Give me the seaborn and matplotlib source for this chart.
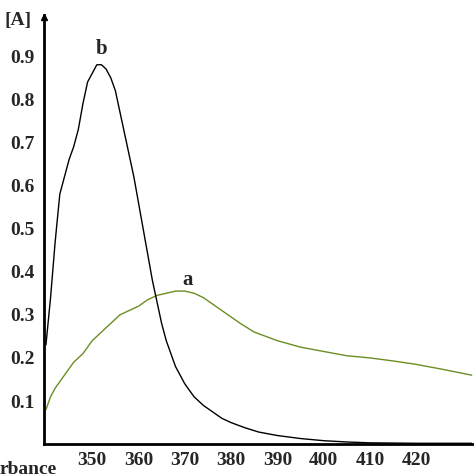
import matplotlib
matplotlib.use("Agg")
import matplotlib.pyplot as plt
import seaborn as sns

sns.set_style("white")
plt.rcParams['font.family'] = ['Liberation Serif', 'DejaVu Serif']

wl_b = [340, 341, 342, 343, 344, 345, 346, 347, 348, 349, 350, 351, 352, 353, 354, 355, 356, 357, 358, 359, 360, 361, 362, 363, 364, 365, 366, 367, 368, 369, 370, 372, 374, 376, 378, 380, 383, 386, 390, 395, 400, 405, 410, 420, 432]
abs_b = [0.23, 0.34, 0.47, 0.58, 0.62, 0.66, 0.69, 0.73, 0.79, 0.84, 0.86, 0.88, 0.88, 0.87, 0.85, 0.82, 0.77, 0.72, 0.67, 0.62, 0.56, 0.50, 0.44, 0.38, 0.33, 0.28, 0.24, 0.21, 0.18, 0.16, 0.14, 0.11, 0.09, 0.075, 0.06, 0.05, 0.038, 0.028, 0.02, 0.013, 0.008, 0.005, 0.003, 0.002, 0.002]
wl_a = [340, 341, 342, 344, 346, 348, 350, 352, 354, 356, 358, 360, 362, 364, 366, 368, 370, 372, 374, 376, 378, 380, 382, 385, 390, 395, 400, 405, 410, 415, 420, 425, 432]
abs_a = [0.08, 0.11, 0.13, 0.16, 0.19, 0.21, 0.24, 0.26, 0.28, 0.30, 0.31, 0.32, 0.335, 0.345, 0.35, 0.355, 0.355, 0.35, 0.34, 0.325, 0.31, 0.295, 0.28, 0.26, 0.24, 0.225, 0.215, 0.205, 0.2, 0.193, 0.185, 0.175, 0.16]
xticks = [350, 360, 370, 380, 390, 400, 410, 420]
yticks = [0.1, 0.2, 0.3, 0.4, 0.5, 0.6, 0.7, 0.8, 0.9]

fig = plt.figure(figsize=(4.74, 4.74), dpi=100)
ax = fig.add_axes([0.093, 0.063, 0.907, 0.905])
sns.lineplot(x=wl_a, y=abs_a, ax=ax, color="#6b8e23", lw=1.0)
sns.lineplot(x=wl_b, y=abs_b, ax=ax, color="black", lw=1.0)
ax.set_xlim(339.6, 432.5)
ax.set_ylim(0, 0.995)
ax.set_xticks(xticks + [430])
ax.set_xticklabels([str(t) for t in xticks] + [""])
ax.set_yticks(yticks)
ax.set_yticklabels([f"{t:.1f}" for t in yticks])
for s in ["top", "right"]:
    ax.spines[s].set_visible(False)
for s in ["left", "bottom"]:
    ax.spines[s].set_color("black")
    ax.spines[s].set_linewidth(2)
ax.tick_params(axis="x", direction="in", length=3, pad=6, labelsize=14)
ax.tick_params(axis="y", length=0, pad=7, labelsize=14)
for lab in ax.get_xticklabels() + ax.get_yticklabels():
    lab.set_fontweight("bold")
ax.plot([339.6], [0.99], marker="^", color="black", ms=5, clip_on=False)
ax.text(352, 0.905, "b", fontsize=15, fontweight="bold", ha="center")
ax.text(370.5, 0.37, "a", fontsize=15, fontweight="bold", ha="center")
fig.text(0.01, 0.948, "[A]", fontsize=14, fontweight="bold")
fig.text(0.0, 0.0, "rbance", fontsize=14, fontweight="bold")
fig.savefig("out.png", dpi=100)
